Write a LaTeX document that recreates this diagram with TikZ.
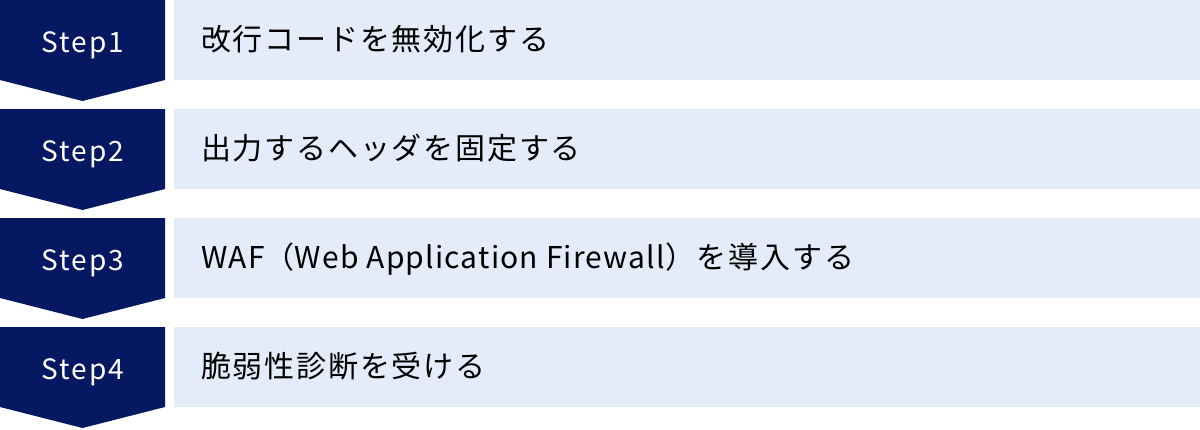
\documentclass[tikz,border=0pt]{standalone}
\usepackage{fontspec}
\setmainfont{Noto Sans CJK JP}
\newfontfamily\stepfont[LetterSpace=7]{Noto Sans CJK JP}
\newfontfamily\bodyfont[LetterSpace=6]{Noto Sans CJK JP}
\newfontfamily\latinfont[LetterSpace=4]{Noto Sans CJK JP}
\usetikzlibrary{positioning}
\definecolor{stepnavy}{HTML}{061862}
\definecolor{bodyblue}{HTML}{E5ECF9}
\tikzset{steptag/.style={fill=stepnavy,draw=none},
         steplabel/.style={text=white,inner sep=0pt,anchor=base,
           font=\stepfont\fontsize{28}{32}\selectfont},
         bodybox/.style={fill=bodyblue,draw=none,anchor=north west,
           minimum width=1026pt,minimum height=80pt,inner sep=0pt},
         bodytext/.style={anchor=base west,inner sep=0pt,
           font=\bodyfont\fontsize{30}{34}\selectfont}}

\begin{document}
\begin{tikzpicture}[x=1pt,y=-1pt]
    \useasboundingbox (0,0) rectangle (1200,429);

    % step tags
    \fill[steptag] (0,0) -- (165,0) -- (165,80) -- (82.5,101) -- (0,80) -- cycle;
    \fill[steptag] (0,109) -- (165,109) -- (165,189) -- (82.5,210) -- (0,189) -- cycle;
    \fill[steptag] (0,218) -- (165,218) -- (165,298) -- (82.5,319) -- (0,298) -- cycle;
    \fill[steptag] (0,327) -- (165,327) -- (165,407) -- (82.5,428) -- (0,407) -- cycle;

    \node[steplabel] (S1) at (83,52) {Step1}; \node[steplabel] (S2) at
    (83,161) {Step2}; \node[steplabel] (S3) at (83,270) {Step3};
    \node[steplabel] (S4) at (83,379) {Step4};

    % text boxes
    \node[bodybox] (B1) at (174,0) {}; \node[bodybox] (B2) at (174,109) {};
    \node[bodybox] (B3) at (174,218) {}; \node[bodybox] (B4) at (174,327) {};

    \node[bodytext] (T1) at (201,50) {改行コードを無効化する};
    \node[bodytext] (T2) at (201,159) {出力するヘッダを固定する};
    \node[bodytext] (T3) at (201,268) {{\latinfont WAF}（{\latinfont Web Application Firewall}）を導入する};
    \node[bodytext] (T4) at (201,377) {脆弱性診断を受ける};

  \end{tikzpicture}
\end{document}
